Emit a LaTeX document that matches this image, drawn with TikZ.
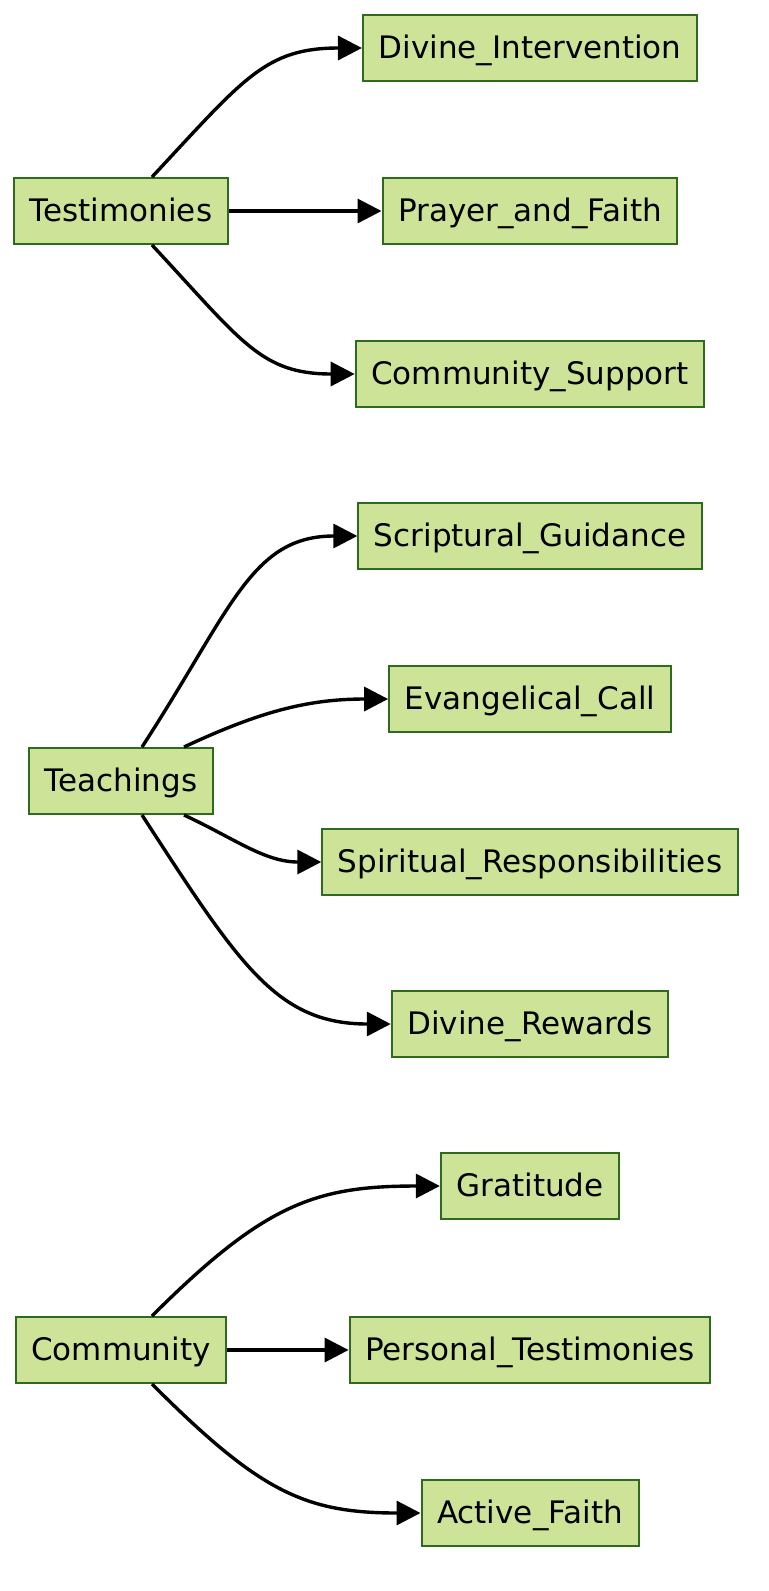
\documentclass[tikz,border=0pt]{standalone}
\usepackage{fontspec}
\setmainfont{DejaVu Sans}
\usetikzlibrary{arrows.meta}
\definecolor{boxfill}{HTML}{CDE498}
\definecolor{boxline}{HTML}{2F6B1F}
\tikzset{
    topic/.style={rectangle, draw=boxline, line width=1pt, fill=boxfill,
        minimum height=33pt, inner xsep=7.8pt, text height=13pt, text depth=3pt,
        font=\fontsize{15.5}{18}\selectfont},
    arr/.style={-{Triangle[length=12pt, width=12pt]}, line width=1.7pt, draw=black}
}

\begin{document}
\begin{tikzpicture}[x=0.5pt, y=-0.5pt]
\useasboundingbox (0,0) rectangle (768,1591);
%% LAYOUT (px, y down):
%% x=121: sources      x=530: targets

\node[topic] (testim)   at (121, 211)  {Testimonies};
\node[topic] (divint)   at (530, 48)   {Divine\_Intervention};
\node[topic] (prayer)   at (530, 211)  {Prayer\_and\_Faith};
\node[topic] (commsup)  at (530, 374)  {Community\_Support};

\node[topic] (teach)    at (121, 781)  {Teachings};
\node[topic] (scrip)    at (530, 536)  {Scriptural\_Guidance};
\node[topic] (evang)    at (530, 699)  {Evangelical\_Call};
\node[topic] (spirit)   at (530, 862)  {Spiritual\_Responsibilities};
\node[topic] (rewards)  at (530, 1024) {Divine\_Rewards};

\node[topic] (commun)   at (121, 1350) {Community};
\node[topic] (grat)     at (530, 1186) {Gratitude};
\node[topic] (personal) at (530, 1350) {Personal\_Testimonies};
\node[topic] (active)   at (530, 1513) {Active\_Faith};

%% ── TESTIMONIES ─────────────────────────────────────────────────
\draw[arr] ([xshift=15.5pt]testim.north) to[out=47, in=180, out looseness=1.4, in looseness=1] (divint.west);
\draw[arr] (testim.east) -- (prayer.west);
\draw[arr] ([xshift=15.5pt]testim.south) to[out=-47, in=180, out looseness=1.4, in looseness=1] (commsup.west);

%% ── TEACHINGS ───────────────────────────────────────────────────
\draw[arr] ([xshift=10.5pt]teach.north) to[out=57, in=180, out looseness=1.4, in looseness=0.9] (scrip.west);
\draw[arr] ([xshift=31.5pt]teach.north) to[out=25, in=180] (evang.west);
\draw[arr] ([xshift=31.5pt]teach.south) to[out=-25, in=180] (spirit.west);
\draw[arr] ([xshift=10.5pt]teach.south) to[out=-57, in=180, out looseness=1.4, in looseness=0.9] (rewards.west);

%% ── COMMUNITY ───────────────────────────────────────────────────
\draw[arr] ([xshift=15.5pt]commun.north) to[out=45, in=180, out looseness=1.3, in looseness=1] (grat.west);
\draw[arr] (commun.east) -- (personal.west);
\draw[arr] ([xshift=15.5pt]commun.south) to[out=-45, in=180, out looseness=1.3, in looseness=1] (active.west);

\end{tikzpicture}
\end{document}
